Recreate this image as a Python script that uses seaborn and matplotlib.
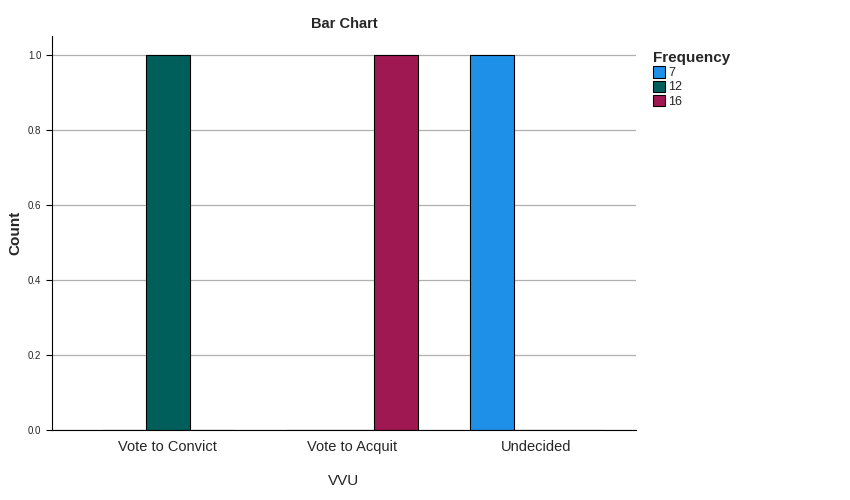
import pandas as pd
import matplotlib.pyplot as plt
import seaborn as sns

# Categories and counts per frequency group
categories = ['Vote to Convict', 'Vote to Acquit', 'Undecided']
frequencies = ['7', '12', '16']
counts = {
    '7':  [0, 0, 1],
    '12': [1, 0, 0],
    '16': [0, 1, 0],
}
colors = ['#1f90e8', '#005f5b', '#a01852']

rows = []
for freq in frequencies:
    for cat, val in zip(categories, counts[freq]):
        rows.append({'VVU': cat, 'Frequency': freq, 'Count': val})
df = pd.DataFrame(rows)

sns.set_style('white')
plt.rcParams['font.family'] = ['Arial', 'Liberation Sans', 'DejaVu Sans']

fig = plt.figure(figsize=(8.5, 5), dpi=100)
ax = fig.add_axes([0.061, 0.14, 0.687, 0.788])

sns.barplot(data=df, x='VVU', y='Count', hue='Frequency', hue_order=frequencies,
            order=categories, palette=colors, saturation=1, width=0.72, gap=0,
            edgecolor='black', linewidth=0.8, ax=ax)

ax.set_xlim(-0.63, 2.54)
ax.set_ylim(0, 1.05)
ax.set_yticks([0, 0.2, 0.4, 0.6, 0.8, 1.0])
ax.set_yticklabels(['0.0', '0.2', '0.4', '0.6', '0.8', '1.0'], fontsize=7)
ax.tick_params(axis='x', labelsize=10.5, length=4, color='black')
ax.tick_params(axis='y', length=4, color='black', left=True)
ax.yaxis.grid(True, color='#b0b0b0', linewidth=0.9)
ax.set_axisbelow(True)
for side in ['top', 'right']:
    ax.spines[side].set_visible(False)
for side in ['left', 'bottom']:
    ax.spines[side].set_color('black')
    ax.spines[side].set_linewidth(0.8)

ax.set_title('Bar Chart', fontsize=10.5, fontweight='bold', pad=6)
ax.set_xlabel('VVU', fontsize=11, labelpad=14)
ax.set_ylabel('Count', fontsize=11, fontweight='bold', labelpad=4)

leg = ax.legend(title='Frequency', loc='upper left', bbox_to_anchor=(1.01, 0.99),
                frameon=False, fontsize=9, handlelength=1.0, handleheight=1.0,
                handletextpad=0.2, labelspacing=0.1, alignment='left')
leg.get_title().set_fontweight('bold')
leg.get_title().set_fontsize(11)

fig.savefig('out.png', dpi=100)
